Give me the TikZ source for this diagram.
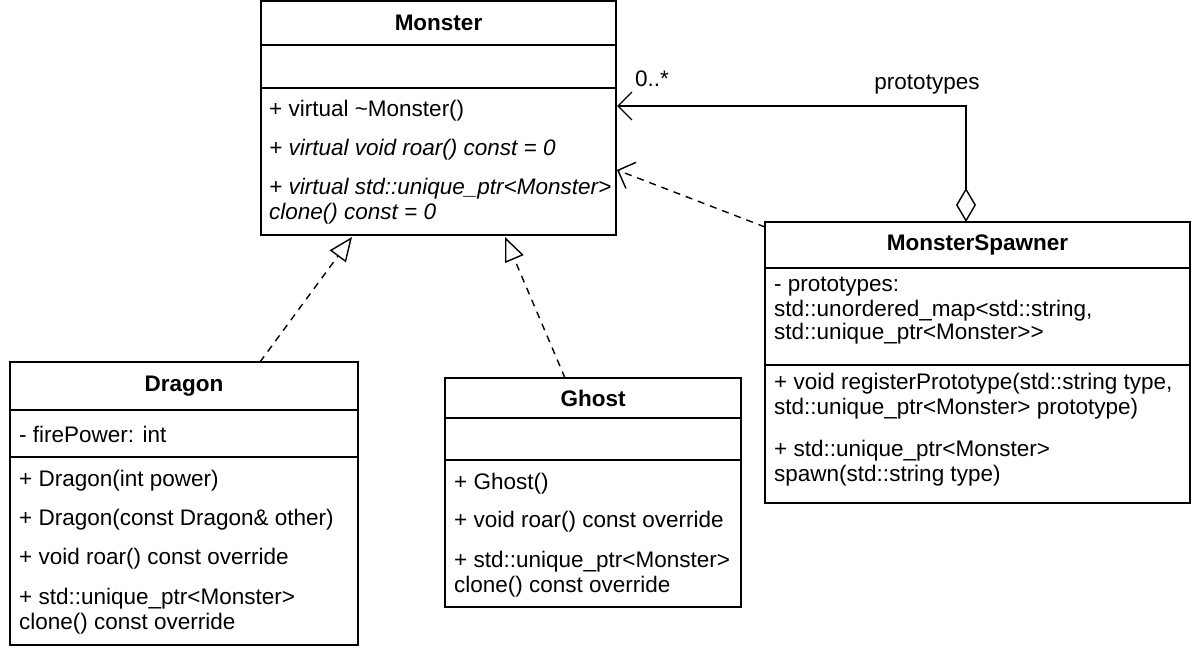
\documentclass[tikz,border=0pt]{standalone}
\usepackage{fontspec}
\setmainfont{Liberation Sans}
\usetikzlibrary{arrows.meta}
\begin{document}
\begin{tikzpicture}[x=1pt,y=-1pt,
  box/.style={draw,line width=1.4pt,inner sep=0pt},
  sep/.style={line width=1.4pt},
  txt/.style={anchor=west,inner sep=0pt,font=\fontsize{22.5}{26}\selectfont},
  ttl/.style={inner sep=0pt,font=\fontsize{22.5}{26}\selectfont\bfseries},
  real/.style={line width=1.4pt,dash pattern=on 7pt off 6pt,-{Triangle[open,length=24pt,width=20pt]}},
  dep/.style={line width=1.4pt,dash pattern=on 7pt off 6pt,-{Straight Barb[length=14pt,width=28pt]}},
  agg/.style={line width=1.4pt,{Diamond[open,length=34pt,width=20pt]}-{Straight Barb[length=14pt,width=28pt]}}]
\useasboundingbox (0,0) rectangle (1200,655);
% Monster
\draw[box] (261,1) rectangle (616,235);
\draw[sep] (261,45) -- (616,45) (261,88) -- (616,88);
\node[ttl] (mt) at (438.5,23) {Monster};
\node[txt] (m1) at (269,111) {+ virtual \textasciitilde Monster()};
\node[txt] (m2) at (269,150) {\itshape + virtual void roar() const = 0};
\node[txt] (m3) at (269,189) {\itshape + virtual std::unique\_ptr<Monster>};
\node[txt] (m4) at (269,214) {\itshape clone() const = 0};
% Dragon
\draw[box] (10,362) rectangle (358,645);
\draw[sep] (10,410) -- (358,410) (10,457) -- (358,457);
\node[ttl] (dt) at (184,386) {Dragon};
\node[txt] at (19,434) {- firePower: int};
\node[txt] at (19,481) {+ Dragon(int power)};
\node[txt] at (19,520) {+ Dragon(const Dragon\& other)};
\node[txt] at (19,559) {+ void roar() const override};
\node[txt] at (19,599) {+ std::unique\_ptr<Monster>};
\node[txt] at (19,624) {clone() const override};
% Ghost
\draw[box] (445,378) rectangle (741,607);
\draw[sep] (445,418) -- (741,418) (445,460) -- (741,460);
\node[ttl] (gt) at (593,398) {Ghost};
\node[txt] at (454,484) {+ Ghost()};
\node[txt] at (454,522) {+ void roar() const override};
\node[txt] at (454,562) {+ std::unique\_ptr<Monster>};
\node[txt] at (454,587) {clone() const override};
% Spawner
\draw[box] (765,222) rectangle (1190,503);
\draw[sep] (765,268) -- (1190,268) (765,365) -- (1190,365);
\node[ttl] (st) at (977.5,245) {MonsterSpawner};
\node[txt] at (774,287) {- prototypes:};
\node[txt] at (774,311) {std::unordered\_map<std::string,};
\node[txt] at (774,334) {std::unique\_ptr<Monster{>}{>}};
\node[txt] at (774,384) {+ void registerPrototype(std::string type,};
\node[txt] at (774,409) {std::unique\_ptr<Monster> prototype)};
\node[txt] at (774,451) {+ std::unique\_ptr<Monster>};
\node[txt] at (774,476) {spawn(std::string type)};
% connector endpoints
\coordinate (dA) at (260,362);
\coordinate (dB) at (352,237);
\coordinate (gA) at (565,378);
\coordinate (gB) at (505,237);
\coordinate (sA) at (765,227);
\coordinate (sB) at (617,170);
\coordinate (aA) at (966,222);
\coordinate (aB) at (617,106);
\draw[real] (dA) -- (dB);
\draw[real] (gA) -- (gB);
\draw[dep] (sA) -- (sB);
\draw[agg] (aA) |- (aB);
\node[inner sep=0pt,font=\fontsize{22.5}{26}\selectfont] (mult) at (652,79) {0..*};
\node[inner sep=0pt,font=\fontsize{22.5}{26}\selectfont] (role) at (927,85) {prototypes};
\end{tikzpicture}
\end{document}
